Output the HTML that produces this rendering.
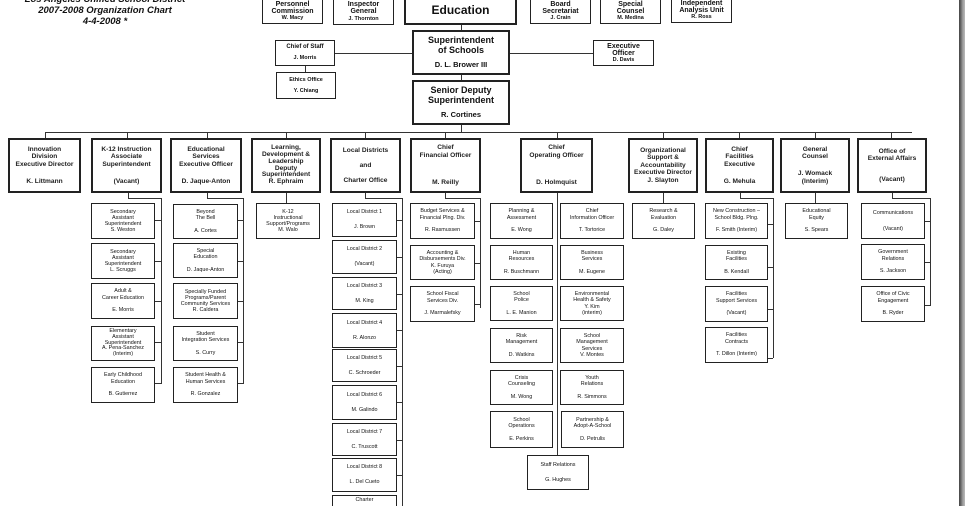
<!DOCTYPE html>
<html style="overflow:hidden;width:965px;height:506px"><head><meta charset="utf-8"><style>
*{margin:0;padding:0;box-sizing:border-box}
body{width:965px;height:506px;background:#fff;position:relative;overflow:hidden;font-family:"Liberation Sans",Arial,sans-serif;color:#111}
.b{position:absolute;border:1.3px solid #222;background:#fff;display:flex;flex-direction:column;justify-content:space-around;align-items:center;text-align:center;font-size:5.4px;line-height:1.15;padding:1px 1px;overflow:hidden}
.t{border-width:2px;font-size:6.6px;font-weight:bold;color:#222}
.m{font-size:7.5px;font-weight:bold}
.h{position:absolute;height:1px;background:#333}
.v{position:absolute;width:1px;background:#333}
.title{position:absolute;left:0;width:210px;text-align:center;font-style:italic;font-weight:bold;font-size:9.5px;line-height:11px}
</style></head><body>
<div class="title" style="top:-6px">Los Angeles Unified School District<br>2007-2008 Organization Chart<br>4-4-2008 *</div>

<div class="b m" style="left:262px;top:-2px;width:61px;height:26px;font-size:7px;line-height:1">Personnel<br>Commission<span style="font-size:5.5px">W. Macy</span></div>
<div class="b m" style="left:333px;top:-2px;width:61px;height:27px;font-size:7px;line-height:1">Inspector<br>General<span style="font-size:5.5px">J. Thornton</span></div>
<div class="b" style="left:404px;top:-3px;width:113px;height:28px;border-width:2px;font-size:12px;font-weight:bold;justify-content:center">Education</div>
<div class="b m" style="left:530px;top:-2px;width:61px;height:26px;font-size:7px;line-height:1">Board<br>Secretariat<span style="font-size:5.5px">J. Crain</span></div>
<div class="b m" style="left:600px;top:-2px;width:61px;height:26px;font-size:7px;line-height:1">Special<br>Counsel<span style="font-size:5.5px">M. Medina</span></div>
<div class="b m" style="left:671px;top:-2px;width:61px;height:25px;font-size:7px;line-height:1">Independent<br>Analysis Unit<span style="font-size:5.5px">R. Ross</span></div>

<div class="v" style="left:461px;top:25px;height:108px"></div>
<div class="b" style="left:412px;top:30px;width:98px;height:45px;border-width:2px;font-size:9px;font-weight:bold;line-height:1.1"><span>Superintendent<br>of Schools</span><span style="font-size:7.5px">D. L. Brower III</span></div>
<div class="b" style="left:412px;top:80px;width:98px;height:45px;border-width:2px;font-size:9px;font-weight:bold;line-height:1.05"><span>Senior Deputy<br>Superintendent</span><span style="font-size:7.5px">R. Cortines</span></div>

<div class="h" style="left:335px;top:53px;width:77px"></div>
<div class="h" style="left:510px;top:53px;width:83px"></div>
<div class="v" style="left:305px;top:66px;height:6px"></div>
<div class="b m" style="left:275px;top:40px;width:60px;height:26px;font-size:6px">Chief of Staff<span style="font-size:5.5px">J. Morris</span></div>
<div class="b" style="left:276px;top:72px;width:60px;height:27px;font-size:5.5px;font-weight:bold">Ethics Office<span>Y. Chiang</span></div>
<div class="b m" style="left:593px;top:40px;width:61px;height:26px;font-size:7px;line-height:1">Executive<br>Officer<span style="font-size:5.5px">D. Davis</span></div>

<div class="h" style="left:45px;top:132px;width:867px"></div>
<div class="v" style="left:45px;top:132px;height:6px"></div>
<div class="v" style="left:127px;top:132px;height:6px"></div>
<div class="v" style="left:207px;top:132px;height:6px"></div>
<div class="v" style="left:286px;top:132px;height:6px"></div>
<div class="v" style="left:365px;top:132px;height:6px"></div>
<div class="v" style="left:445px;top:132px;height:6px"></div>
<div class="v" style="left:557px;top:132px;height:6px"></div>
<div class="v" style="left:663px;top:132px;height:6px"></div>
<div class="v" style="left:739px;top:132px;height:6px"></div>
<div class="v" style="left:815px;top:132px;height:6px"></div>
<div class="v" style="left:891px;top:132px;height:6px"></div>

<div class="b t" style="left:8px;top:138px;width:73px;height:55px"><span>Innovation<br>Division<br>Executive Director</span><span>K. Littmann</span></div>
<div class="b t" style="left:91px;top:138px;width:71px;height:55px"><span>K-12 Instruction<br>Associate<br>Superintendent</span><span>(Vacant)</span></div>
<div class="b t" style="left:170px;top:138px;width:72px;height:55px"><span>Educational<br>Services<br>Executive Officer</span><span>D. Jaque-Anton</span></div>
<div class="b t" style="left:251px;top:138px;width:70px;height:55px;line-height:1.05"><span>Learning,<br>Development &amp;<br>Leadership<br>Deputy<br>Superintendent<br>R. Ephraim</span></div>
<div class="b t" style="left:330px;top:138px;width:71px;height:55px"><span>Local Districts<br><br>and<br><br>Charter Office</span></div>
<div class="b t" style="left:410px;top:138px;width:71px;height:55px"><span>Chief<br>Financial Officer</span><span><br></span><span>M. Reilly</span></div>
<div class="b t" style="left:520px;top:138px;width:73px;height:55px"><span>Chief<br>Operating Officer</span><span><br></span><span>D. Holmquist</span></div>
<div class="b t" style="left:628px;top:138px;width:70px;height:55px"><span>Organizational<br>Support &amp;<br>Accountability<br>Executive Director<br>J. Slayton</span></div>
<div class="b t" style="left:705px;top:138px;width:69px;height:55px"><span>Chief<br>Facilities<br>Executive</span><span>G. Mehula</span></div>
<div class="b t" style="left:780px;top:138px;width:70px;height:55px"><span>General<br>Counsel</span><span>J. Womack<br>(Interim)</span></div>
<div class="b t" style="left:857px;top:138px;width:70px;height:55px"><span>Office of<br>External Affairs</span><span>(Vacant)</span></div>

<div class="v" style="left:128px;top:193px;height:5px"></div>
<div class="h" style="left:128px;top:198px;width:33px"></div>
<div class="v" style="left:161px;top:198px;height:186px"></div>
<div class="h" style="left:155px;top:220px;width:6px"></div>
<div class="h" style="left:155px;top:261px;width:6px"></div>
<div class="h" style="left:155px;top:301px;width:6px"></div>
<div class="h" style="left:155px;top:342px;width:6px"></div>
<div class="h" style="left:155px;top:383px;width:6px"></div>
<div class="b" style="left:91px;top:203px;width:64px;height:36px"><span>Secondary<br>Assistant<br>Superintendent<br>S. Weston</span></div>
<div class="b" style="left:91px;top:243px;width:64px;height:36px"><span>Secondary<br>Assistant<br>Superintendent<br>L. Scruggs</span></div>
<div class="b" style="left:91px;top:283px;width:64px;height:36px"><span>Adult &amp;<br>Career Education</span><span>E. Morris</span></div>
<div class="b" style="left:91px;top:326px;width:64px;height:35px;line-height:1.05"><span>Elementary<br>Assistant<br>Superintendent<br>A. Pena-Sanchez<br>(Interim)</span></div>
<div class="b" style="left:91px;top:367px;width:64px;height:36px"><span>Early Childhood<br>Education</span><span>B. Gutierrez</span></div>

<div class="v" style="left:207px;top:193px;height:5px"></div>
<div class="h" style="left:207px;top:198px;width:36px"></div>
<div class="v" style="left:243px;top:198px;height:186px"></div>
<div class="h" style="left:238px;top:220px;width:5px"></div>
<div class="h" style="left:238px;top:261px;width:5px"></div>
<div class="h" style="left:238px;top:301px;width:5px"></div>
<div class="h" style="left:238px;top:342px;width:5px"></div>
<div class="h" style="left:238px;top:383px;width:5px"></div>
<div class="b" style="left:173px;top:204px;width:65px;height:35px"><span>Beyond<br>The Bell</span><span>A. Cortes</span></div>
<div class="b" style="left:173px;top:243px;width:65px;height:35px"><span>Special<br>Education</span><span>D. Jaque-Anton</span></div>
<div class="b" style="left:173px;top:283px;width:65px;height:36px"><span>Specially Funded<br>Programs/Parent<br>Community Services<br>R. Caldera</span></div>
<div class="b" style="left:173px;top:326px;width:65px;height:35px"><span>Student<br>Integration Services</span><span>S. Curry</span></div>
<div class="b" style="left:173px;top:367px;width:65px;height:36px"><span>Student Health &amp;<br>Human Services</span><span>R. Gonzalez</span></div>

<div class="v" style="left:286px;top:193px;height:10px"></div>
<div class="b" style="left:256px;top:203px;width:64px;height:36px"><span>K-12<br>Instructional<br>Support/Programs<br>M. Walo</span></div>

<div class="v" style="left:365px;top:193px;height:5px"></div>
<div class="h" style="left:365px;top:198px;width:37px"></div>
<div class="v" style="left:402px;top:198px;height:308px"></div>
<div class="b" style="left:332px;top:203px;width:65px;height:34px"><span>Local District 1</span><span>J. Brown</span></div>
<div class="b" style="left:332px;top:240px;width:65px;height:34px"><span>Local District 2</span><span>(Vacant)</span></div>
<div class="b" style="left:332px;top:277px;width:65px;height:33px"><span>Local District 3</span><span>M. King</span></div>
<div class="b" style="left:332px;top:313px;width:65px;height:35px"><span>Local District 4</span><span>R. Alonzo</span></div>
<div class="b" style="left:332px;top:349px;width:65px;height:33px"><span>Local District 5</span><span>C. Schroeder</span></div>
<div class="b" style="left:332px;top:385px;width:65px;height:35px"><span>Local District 6</span><span>M. Galindo</span></div>
<div class="b" style="left:332px;top:423px;width:65px;height:33px"><span>Local District 7</span><span>C. Truscott</span></div>
<div class="b" style="left:332px;top:458px;width:65px;height:34px"><span>Local District 8</span><span>L. Del Cueto</span></div>
<div class="b" style="left:332px;top:495px;width:65px;height:11px;justify-content:flex-start;border-bottom:none"><span>Charter</span></div>
<div class="h" style="left:397px;top:220px;width:5px"></div>
<div class="h" style="left:397px;top:257px;width:5px"></div>
<div class="h" style="left:397px;top:294px;width:5px"></div>
<div class="h" style="left:397px;top:330px;width:5px"></div>
<div class="h" style="left:397px;top:366px;width:5px"></div>
<div class="h" style="left:397px;top:402px;width:5px"></div>
<div class="h" style="left:397px;top:440px;width:5px"></div>
<div class="h" style="left:397px;top:475px;width:5px"></div>

<div class="v" style="left:445px;top:193px;height:5px"></div>
<div class="h" style="left:445px;top:198px;width:35px"></div>
<div class="v" style="left:480px;top:198px;height:110px"></div>
<div class="h" style="left:475px;top:221px;width:5px"></div>
<div class="h" style="left:475px;top:263px;width:5px"></div>
<div class="h" style="left:475px;top:304px;width:5px"></div>
<div class="b" style="left:410px;top:203px;width:65px;height:36px"><span>Budget Services &amp;<br>Financial Plng. Div.</span><span>R. Rasmussen</span></div>
<div class="b" style="left:410px;top:245px;width:65px;height:35px"><span>Accounting &amp;<br>Disbursements Div.<br>K. Furuya<br>(Acting)</span></div>
<div class="b" style="left:410px;top:286px;width:65px;height:36px"><span>School Fiscal<br>Services Div.</span><span>J. Marmalefsky</span></div>

<div class="v" style="left:557px;top:193px;height:262px"></div>
<div class="b" style="left:490px;top:203px;width:63px;height:36px"><span>Planning &amp;<br>Assessment</span><span>E. Wong</span></div>
<div class="b" style="left:490px;top:245px;width:63px;height:35px"><span>Human<br>Resources</span><span>R. Buschmann</span></div>
<div class="b" style="left:490px;top:286px;width:63px;height:35px"><span>School<br>Police</span><span>L. E. Manion</span></div>
<div class="b" style="left:490px;top:328px;width:63px;height:35px"><span>Risk<br>Management</span><span>D. Watkins</span></div>
<div class="b" style="left:490px;top:370px;width:63px;height:35px"><span>Crisis<br>Counseling</span><span>M. Wong</span></div>
<div class="b" style="left:490px;top:411px;width:63px;height:37px"><span>School<br>Operations</span><span>E. Perkins</span></div>
<div class="b" style="left:560px;top:203px;width:64px;height:36px"><span>Chief<br>Information Officer</span><span>T. Tortorice</span></div>
<div class="b" style="left:560px;top:245px;width:64px;height:35px"><span>Business<br>Services</span><span>M. Eugene</span></div>
<div class="b" style="left:560px;top:286px;width:64px;height:35px"><span>Environmental<br>Health &amp; Safety<br>Y. Kim<br>(interim)</span></div>
<div class="b" style="left:560px;top:328px;width:64px;height:35px"><span>School<br>Management<br>Services<br>V. Montes</span></div>
<div class="b" style="left:560px;top:370px;width:64px;height:35px"><span>Youth<br>Relations</span><span>R. Simmons</span></div>
<div class="b" style="left:561px;top:411px;width:63px;height:37px"><span>Partnership &amp;<br>Adopt-A-School</span><span>D. Petrulis</span></div>
<div class="b" style="left:527px;top:455px;width:62px;height:35px"><span>Staff Relations</span><span>G. Hughes</span></div>

<div class="v" style="left:663px;top:193px;height:10px"></div>
<div class="b" style="left:632px;top:203px;width:63px;height:36px"><span>Research &amp;<br>Evaluation</span><span>G. Daley</span></div>

<div class="v" style="left:740px;top:193px;height:5px"></div>
<div class="h" style="left:740px;top:198px;width:33px"></div>
<div class="v" style="left:773px;top:198px;height:160px"></div>
<div class="h" style="left:768px;top:224px;width:5px"></div>
<div class="h" style="left:768px;top:267px;width:5px"></div>
<div class="h" style="left:768px;top:309px;width:5px"></div>
<div class="h" style="left:768px;top:358px;width:5px"></div>
<div class="b" style="left:705px;top:203px;width:63px;height:36px"><span>New Construction –<br>School Bldg. Plng.</span><span>F. Smith (Interim)</span></div>
<div class="b" style="left:705px;top:245px;width:63px;height:35px"><span>Existing<br>Facilities</span><span>B. Kendall</span></div>
<div class="b" style="left:705px;top:286px;width:63px;height:36px"><span>Facilities<br>Support Services</span><span>(Vacant)</span></div>
<div class="b" style="left:705px;top:327px;width:63px;height:36px"><span>Facilities<br>Contracts</span><span>T. Dillon (Interim)</span></div>

<div class="v" style="left:815px;top:193px;height:10px"></div>
<div class="b" style="left:785px;top:203px;width:63px;height:36px"><span>Educational<br>Equity</span><span>S. Spears</span></div>

<div class="v" style="left:892px;top:193px;height:5px"></div>
<div class="h" style="left:892px;top:198px;width:38px"></div>
<div class="v" style="left:930px;top:198px;height:108px"></div>
<div class="h" style="left:925px;top:221px;width:5px"></div>
<div class="h" style="left:925px;top:262px;width:5px"></div>
<div class="h" style="left:925px;top:305px;width:5px"></div>
<div class="b" style="left:861px;top:203px;width:64px;height:36px"><span>Communications</span><span>(Vacant)</span></div>
<div class="b" style="left:861px;top:244px;width:64px;height:36px"><span>Government<br>Relations</span><span>S. Jackson</span></div>
<div class="b" style="left:861px;top:286px;width:64px;height:36px"><span>Office of Civic<br>Engagement</span><span>B. Ryder</span></div>

<div style="position:absolute;left:959px;top:0;width:6px;height:506px;background:linear-gradient(to right,#444,#666 30%,#999 60%,#bbb)"></div>
</body></html>
